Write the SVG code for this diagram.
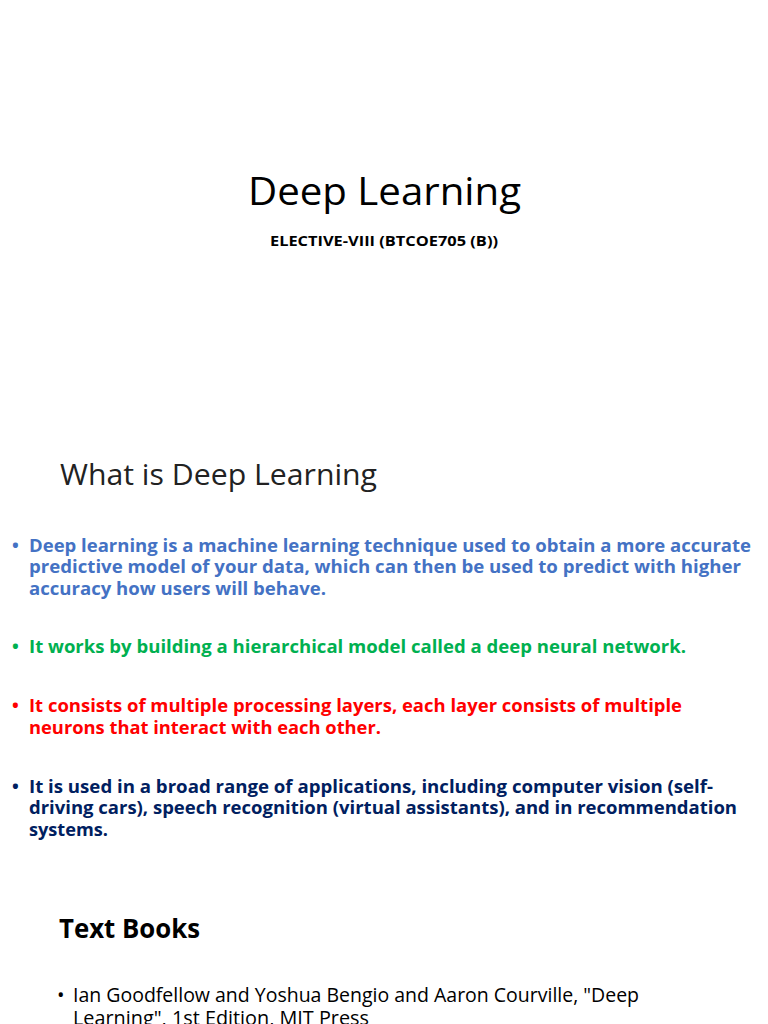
<svg xmlns="http://www.w3.org/2000/svg" width="768" height="1024" viewBox="0 0 768 1024">
<style>
text{font-family:"Open Sans","Noto Sans",sans-serif;}
.b{font-size:18px;font-weight:bold;}
.blue{fill:#4472C4}.green{fill:#00B050}.red{fill:#FF0000}.navy{fill:#002060}
</style>
<rect width="768" height="1024" fill="#fff"/>
<text x="248" y="205" font-size="39" textLength="273" lengthAdjust="spacingAndGlyphs">Deep Learning</text>
<text x="270" y="246" font-size="15" font-weight="bold" textLength="228" lengthAdjust="spacingAndGlyphs">ELECTIVE-VIII (BTCOE705 (B))</text>
<text x="60" y="485" font-size="30" fill="#222" textLength="317" lengthAdjust="spacingAndGlyphs">What is Deep Learning</text>
<g class="b">
<text x="12" y="552" class="blue">•</text>
<text x="29" y="552" class="blue" textLength="722" lengthAdjust="spacingAndGlyphs">Deep learning is a machine learning technique used to obtain a more accurate</text>
<text x="29" y="573" class="blue" textLength="712" lengthAdjust="spacingAndGlyphs">predictive model of your data, which can then be used to predict with higher</text>
<text x="29" y="595" class="blue" textLength="297" lengthAdjust="spacingAndGlyphs">accuracy how users will behave.</text>
<text x="12" y="653" class="green">•</text>
<text x="29" y="653" class="green" textLength="657" lengthAdjust="spacingAndGlyphs">It works by building a hierarchical model called a deep neural network.</text>
<text x="12" y="712" class="red">•</text>
<text x="29" y="712" class="red" textLength="653" lengthAdjust="spacingAndGlyphs">It consists of multiple processing layers, each layer consists of multiple</text>
<text x="29" y="734" class="red" textLength="352" lengthAdjust="spacingAndGlyphs">neurons that interact with each other.</text>
<text x="12" y="793" class="navy">•</text>
<text x="29" y="793" class="navy" textLength="684" lengthAdjust="spacingAndGlyphs">It is used in a broad range of applications, including computer vision (self-</text>
<text x="29" y="814" class="navy" textLength="708" lengthAdjust="spacingAndGlyphs">driving cars), speech recognition (virtual assistants), and in recommendation</text>
<text x="29" y="836" class="navy" textLength="79" lengthAdjust="spacingAndGlyphs">systems.</text>
</g>
<text x="59" y="938" font-size="27" font-weight="bold" textLength="141" lengthAdjust="spacingAndGlyphs">Text Books</text>
<text x="57" y="1002" font-size="20">•</text>
<text x="73" y="1002" font-size="20" textLength="566" lengthAdjust="spacingAndGlyphs">Ian Goodfellow and Yoshua Bengio and Aaron Courville, "Deep</text>
<text x="73" y="1025" font-size="20" textLength="296" lengthAdjust="spacingAndGlyphs">Learning", 1st Edition, MIT Press</text>
</svg>
